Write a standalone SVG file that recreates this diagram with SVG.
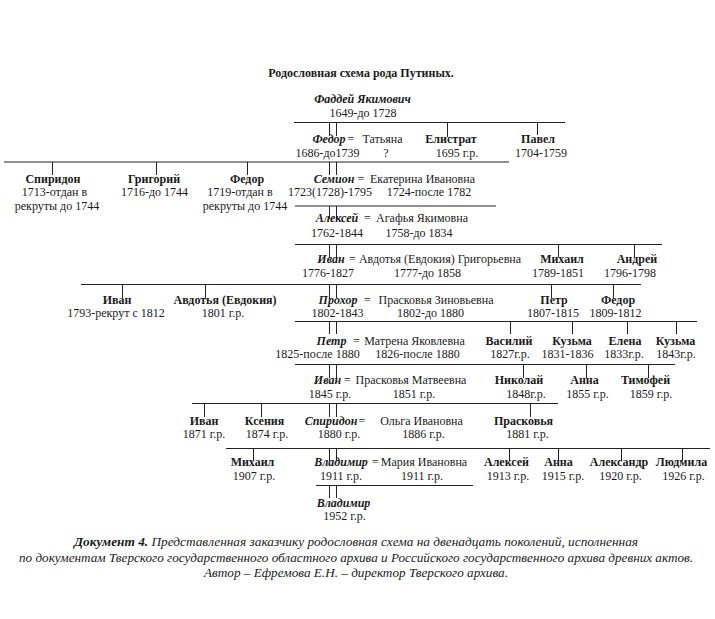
<svg xmlns="http://www.w3.org/2000/svg" width="715" height="619" viewBox="0 0 715 619">
<style>
text{font-family:"Liberation Serif","Times New Roman",serif;font-size:12px;fill:#1a1a1a;text-anchor:middle}
.t{font-weight:bold;font-size:12px}
.m{font-weight:bold;font-style:italic}
.n{font-weight:bold}
.cap{font-style:italic;font-size:12.5px;text-anchor:start}
.cap .b{font-weight:bold}
#connectors line{stroke:#222;stroke-width:1}
</style>
<rect width="715" height="619" fill="#fff"/>
<text class="t" x="361" y="77">Родословная схема рода Путиных.</text>

<g id="connectors">
<line x1="294" y1="122.5" x2="565" y2="122.5"/>
<line x1="329.5" y1="122.5" x2="329.5" y2="136"/><line x1="336.5" y1="122.5" x2="336.5" y2="136"/>
<line x1="447.5" y1="122.5" x2="447.5" y2="137"/><line x1="537.5" y1="122.5" x2="537.5" y2="135"/>

<line x1="4" y1="162" x2="509" y2="162"/>
<line x1="52.5" y1="162" x2="52.5" y2="175"/><line x1="156.5" y1="162" x2="156.5" y2="175"/><line x1="247.5" y1="162" x2="247.5" y2="175"/>
<line x1="329.5" y1="162" x2="329.5" y2="175"/><line x1="336.5" y1="162" x2="336.5" y2="175"/>

<line x1="295" y1="206" x2="496" y2="206"/>
<line x1="329.5" y1="206" x2="329.5" y2="219"/><line x1="336.5" y1="206" x2="336.5" y2="219"/>

<line x1="295" y1="244.5" x2="662" y2="244.5"/>
<line x1="329.5" y1="244.5" x2="329.5" y2="258"/><line x1="336.5" y1="244.5" x2="336.5" y2="258"/>
<line x1="558.5" y1="244.5" x2="558.5" y2="257"/><line x1="634.5" y1="244.5" x2="634.5" y2="257"/>

<line x1="81" y1="284.5" x2="641" y2="284.5"/>
<line x1="122.5" y1="284.5" x2="122.5" y2="298"/><line x1="205.5" y1="284.5" x2="205.5" y2="298"/>
<line x1="329.5" y1="284.5" x2="329.5" y2="298"/><line x1="336.5" y1="284.5" x2="336.5" y2="298"/>
<line x1="551.5" y1="284.5" x2="551.5" y2="298"/><line x1="613.5" y1="284.5" x2="613.5" y2="298"/>

<line x1="295" y1="321.5" x2="697" y2="321.5"/>
<line x1="329.5" y1="321.5" x2="329.5" y2="334"/><line x1="336.5" y1="321.5" x2="336.5" y2="334"/>
<line x1="510.5" y1="321.5" x2="510.5" y2="334"/><line x1="572.5" y1="321.5" x2="572.5" y2="334"/>
<line x1="627.5" y1="321.5" x2="627.5" y2="334"/><line x1="676.5" y1="321.5" x2="676.5" y2="334"/>

<line x1="295" y1="364.5" x2="675" y2="364.5"/>
<line x1="329.5" y1="364.5" x2="329.5" y2="378"/><line x1="336.5" y1="364.5" x2="336.5" y2="378"/>
<line x1="523.5" y1="364.5" x2="523.5" y2="378"/><line x1="586.5" y1="364.5" x2="586.5" y2="378"/><line x1="648.5" y1="364.5" x2="648.5" y2="378"/>

<line x1="192" y1="403.5" x2="558" y2="403.5"/>
<line x1="204.5" y1="403.5" x2="204.5" y2="417"/><line x1="261.5" y1="403.5" x2="261.5" y2="417"/>
<line x1="329.5" y1="403.5" x2="329.5" y2="417"/><line x1="336.5" y1="403.5" x2="336.5" y2="417"/>
<line x1="530.5" y1="403.5" x2="530.5" y2="417"/>

<line x1="226" y1="448.5" x2="710" y2="448.5"/>
<line x1="253.5" y1="448.5" x2="253.5" y2="461"/>
<line x1="329.5" y1="448.5" x2="329.5" y2="461"/><line x1="336.5" y1="448.5" x2="336.5" y2="461"/>
<line x1="509.5" y1="448.5" x2="509.5" y2="461"/><line x1="558.5" y1="448.5" x2="558.5" y2="461"/>
<line x1="621.5" y1="448.5" x2="621.5" y2="461"/><line x1="682.5" y1="448.5" x2="682.5" y2="461"/>

<line x1="316" y1="485.5" x2="473" y2="485.5"/>
<line x1="329.5" y1="485.5" x2="329.5" y2="498"/><line x1="336.5" y1="485.5" x2="336.5" y2="498"/>
</g>

<g id="faddey"><text class="m" x="362.5" y="103">Фаддей Якимович</text><text x="363" y="117">1649-до 1728</text></g>

<g id="fedor-1686"><text class="m" x="329" y="143">Федор</text><text x="351" y="143">=</text><text x="327.5" y="157">1686-до1739</text></g>
<g id="tatyana"><text x="382.5" y="143">Татьяна</text><text x="386" y="157">?</text></g>
<g id="elistrat"><text class="n" x="451" y="143">Елистрат</text><text x="457" y="157">1695 г.р.</text></g>
<g id="pavel"><text class="n" x="538" y="143">Павел</text><text x="541" y="157">1704-1759</text></g>

<g id="spiridon-1713"><text class="n" x="53" y="183">Спиридон</text><text x="54.5" y="196">1713-отдан в</text><text x="57" y="210">рекруты до 1744</text></g>
<g id="grigoriy"><text class="n" x="154" y="183">Григорий</text><text x="154.5" y="196">1716-до 1744</text></g>
<g id="fedor-1719"><text class="n" x="247" y="183">Федор</text><text x="240" y="196">1719-отдан в</text><text x="245" y="210">рекруты до 1744</text></g>
<g id="semion"><text class="m" x="334" y="183">Семион</text><text x="361" y="183">=</text><text x="330" y="196">1723(1728)-1795</text></g>
<g id="ekaterina"><text x="422.5" y="183">Екатерина Ивановна</text><text x="429" y="196">1724-после 1782</text></g>

<g id="aleksey-1762"><text class="m" x="337" y="222">Алексей</text><text x="367.5" y="222">=</text><text x="337" y="237">1762-1844</text></g>
<g id="agafya"><text x="422" y="222">Агафья Якимовна</text><text x="419" y="237">1758-до 1834</text></g>

<g id="ivan-1776"><text class="m" x="331" y="263">Иван</text><text x="352.5" y="263">=</text><text x="328" y="277">1776-1827</text></g>
<g id="avdotya-1777"><text x="440" y="263">Авдотья (Евдокия) Григорьевна</text><text x="427.5" y="277">1777-до 1858</text></g>
<g id="mikhail-1789"><text class="n" x="562" y="263">Михаил</text><text x="558" y="277">1789-1851</text></g>
<g id="andrey"><text class="n" x="637" y="263">Андрей</text><text x="630" y="277">1796-1798</text></g>

<g id="ivan-1793"><text class="n" x="117" y="304">Иван</text><text x="116" y="317">1793-рекрут с 1812</text></g>
<g id="avdotya-1801"><text class="n" x="225" y="304">Авдотья (Евдокия)</text><text x="223" y="317">1801 г.р.</text></g>
<g id="prokhor"><text class="m" x="338" y="304">Прохор</text><text x="367.5" y="304">=</text><text x="337.5" y="317">1802-1843</text></g>
<g id="praskovya-1802"><text x="436" y="304">Прасковья Зиновьевна</text><text x="430.5" y="317">1802-до 1880</text></g>
<g id="petr-1807"><text class="n" x="554" y="304">Петр</text><text x="553" y="317">1807-1815</text></g>
<g id="fedor-1809"><text class="n" x="618" y="304">Федор</text><text x="615.5" y="317">1809-1812</text></g>

<g id="petr-1825"><text class="m" x="331.5" y="345">Петр</text><text x="356.5" y="345">=</text><text x="317.5" y="358">1825-после 1880</text></g>
<g id="matrena"><text x="414.5" y="345">Матрена Яковлевна</text><text x="417.5" y="358">1826-после 1880</text></g>
<g id="vasiliy"><text class="n" x="509" y="345">Василий</text><text x="510" y="358">1827г.р.</text></g>
<g id="kuzma-1831"><text class="n" x="572" y="345">Кузьма</text><text x="567.5" y="358">1831-1836</text></g>
<g id="elena"><text class="n" x="625" y="345">Елена</text><text x="624" y="358">1833г.р.</text></g>
<g id="kuzma-1843"><text class="n" x="675.5" y="345">Кузьма</text><text x="676" y="358">1843г.р.</text></g>

<g id="ivan-1845"><text class="m" x="327.5" y="384">Иван</text><text x="347.5" y="384">=</text><text x="330" y="398">1845 г.р.</text></g>
<g id="praskovya-1851"><text x="411" y="384">Прасковья Матвеевна</text><text x="414" y="398">1851 г.р.</text></g>
<g id="nikolay"><text class="n" x="519" y="384">Николай</text><text x="526" y="398">1848г.р.</text></g>
<g id="anna-1855"><text class="n" x="584.5" y="384">Анна</text><text x="587.5" y="398">1855 г.р.</text></g>
<g id="timofey"><text class="n" x="645.5" y="384">Тимофей</text><text x="651" y="398">1859 г.р.</text></g>

<g id="ivan-1871"><text class="n" x="204" y="425">Иван</text><text x="204" y="438">1871 г.р.</text></g>
<g id="kseniya"><text class="n" x="264.5" y="425">Ксения</text><text x="267" y="438">1874 г.р.</text></g>
<g id="spiridon-1880"><text class="m" x="331" y="425">Спиридон</text><text x="362" y="425">=</text><text x="339" y="438">1880 г.р.</text></g>
<g id="olga"><text x="421.5" y="425">Ольга Ивановна</text><text x="423.5" y="438">1886 г.р.</text></g>
<g id="praskovya-1881"><text class="n" x="523.5" y="425">Прасковья</text><text x="527.5" y="438">1881 г.р.</text></g>

<g id="mikhail-1907"><text class="n" x="252.5" y="466">Михаил</text><text x="254" y="480">1907 г.р.</text></g>
<g id="vladimir-1911"><text class="m" x="341" y="466">Владимир</text><text x="375.5" y="466">=</text><text x="341" y="480">1911 г.р.</text></g>
<g id="mariya"><text x="424" y="466">Мария Ивановна</text><text x="422" y="480">1911 г.р.</text></g>
<g id="aleksey-1913"><text class="n" x="506.5" y="466">Алексей</text><text x="508" y="480">1913 г.р.</text></g>
<g id="anna-1915"><text class="n" x="558.5" y="466">Анна</text><text x="563" y="480">1915 г.р.</text></g>
<g id="aleksandr"><text class="n" x="619" y="466">Александр</text><text x="620.5" y="480">1920 г.р.</text></g>
<g id="lyudmila"><text class="n" x="681.5" y="466">Людмила</text><text x="683.5" y="480">1926 г.р.</text></g>

<g id="vladimir-1952"><text class="m" x="343.5" y="507">Владимир</text><text x="344.5" y="520">1952 г.р.</text></g>

<g id="caption">
<text class="cap" x="74" y="546" textLength="564" lengthAdjust="spacingAndGlyphs"><tspan class="b">Документ 4.</tspan> Представленная заказчику родословная схема на двенадцать поколений, исполненная</text>
<text class="cap" x="19" y="561.5" textLength="674" lengthAdjust="spacingAndGlyphs">по документам Тверского государственного областного архива и Российского государственного архива древних актов.</text>
<text class="cap" x="204" y="577" textLength="304" lengthAdjust="spacingAndGlyphs">Автор – Ефремова Е.Н. – директор Тверского архива.</text>
</g>
</svg>
